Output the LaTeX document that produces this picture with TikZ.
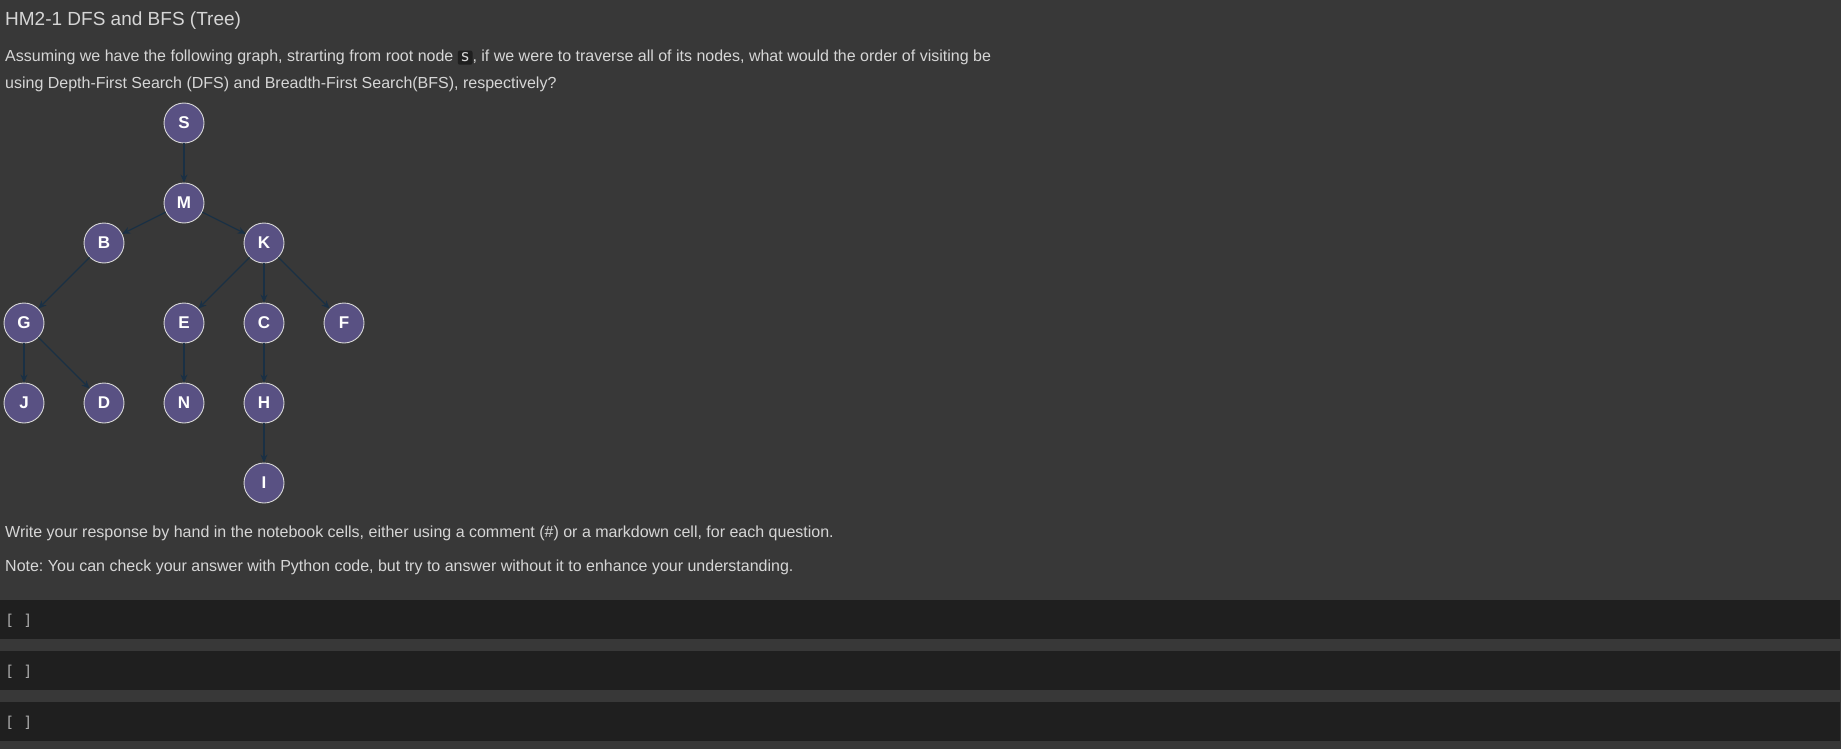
\documentclass[tikz,border=0pt]{standalone}
\usepackage{fontspec}
\setmainfont{Liberation Sans}
\setmonofont{DejaVu Sans Mono}
\usetikzlibrary{arrows.meta}
\frenchspacing
\definecolor{pagebg}{RGB}{56,56,56}
\definecolor{cellbg}{RGB}{31,31,31}
\definecolor{txt}{RGB}{214,214,214}
\definecolor{vfill}{RGB}{89,81,131}
\definecolor{vedge}{RGB}{26,48,68}
\definecolor{brk}{RGB}{170,170,170}
\tikzset{
	vertex/.style={circle, fill=vfill, draw=white!85!black, line width=0.9pt, minimum size=40pt, inner sep=0pt, text=white, font=\fontsize{17}{17}\selectfont\bfseries},
	link/.style={draw=vedge, line width=1.2pt, -{Stealth[length=8pt,width=7pt]}},
	para/.style={anchor=base west, inner sep=0pt, text=txt, font=\fontsize{16}{19}\selectfont},
	cell/.style={fill=cellbg, draw=none}
}
\begin{document}
\begin{tikzpicture}[x=1pt, y=-1pt]
	\useasboundingbox (0,0) rectangle (1841,749);
	\fill[pagebg] (0,0) rectangle (1841,749);
	
	%question text
	\node (title) at (5, 26) [para, font=\fontsize{19}{22}\selectfont]{HM2-1 DFS and BFS (Tree)};
	\node (q1) at (5, 62) [para]{Assuming we have the following graph, strarting from root node \tikz[baseline]\node[anchor=base, fill=cellbg, rounded corners=2pt, inner sep=2.5pt, text=txt]{\ttfamily s};, if we were to traverse all of its nodes, what would the order of visiting be};
	\node (q2) at (5, 89) [para]{using Depth-First Search (DFS) and Breadth-First Search(BFS), respectively?};
	
	%tree
	\node (S) at (184, 123) [vertex]{S};
	\node (M) at (184, 203) [vertex]{M};
	\node (B) at (104, 243) [vertex]{B};
	\node (K) at (264, 243) [vertex]{K};
	\node (G) at (24, 323) [vertex]{G};
	\node (E) at (184, 323) [vertex]{E};
	\node (C) at (264, 323) [vertex]{C};
	\node (F) at (344, 323) [vertex]{F};
	\node (J) at (24, 403) [vertex]{J};
	\node (D) at (104, 403) [vertex]{D};
	\node (N) at (184, 403) [vertex]{N};
	\node (H) at (264, 403) [vertex]{H};
	\node (I) at (264, 483) [vertex]{I};
	
	\foreach \a/\b in {S/M, M/B, M/K, B/G, K/E, K/C, K/F, G/J, G/D, E/N, C/H, H/I}{
		\draw[link] (\a) -- (\b);
	}
	
	%notes
	\node (w) at (5, 537) [para]{Write your response by hand in the notebook cells, either using a comment (\#) or a markdown cell, for each question.};
	\node (n) at (5, 571) [para]{Note: You can check your answer with Python code, but try to answer without it to enhance your understanding.};
	
	%empty cells
	\foreach \y in {600, 651, 702}{
		\fill[cell] (0, \y) rectangle (1840, \y+39);
		\node at (5, \y+25) [anchor=base west, inner sep=0pt, text=brk, font=\fontsize{15}{15}\selectfont\ttfamily]{[ ]};
	}
\end{tikzpicture}
\end{document}
